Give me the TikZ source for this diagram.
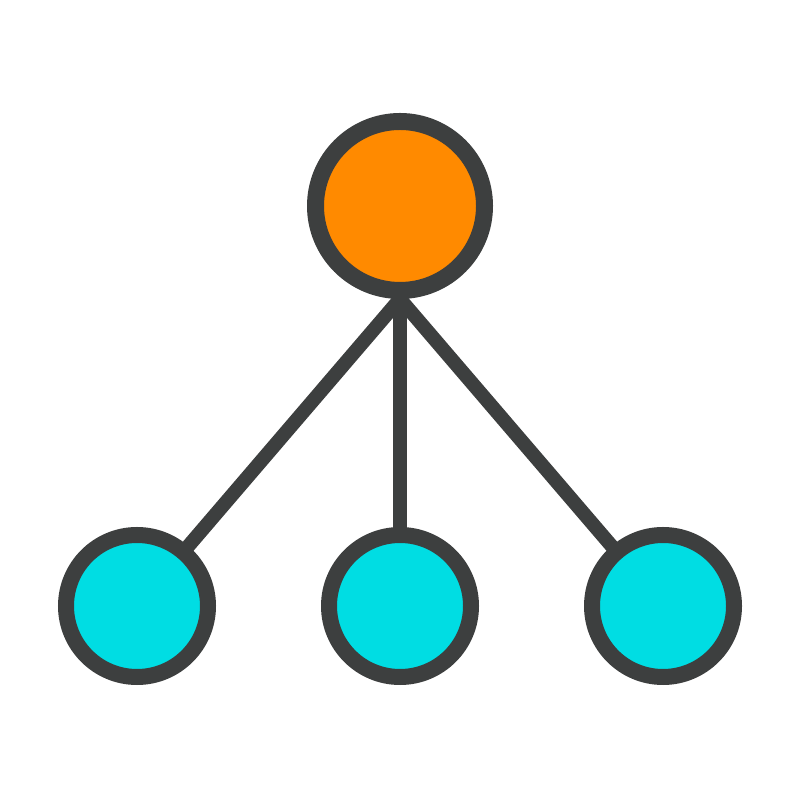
\documentclass[tikz,border=0pt]{standalone}
\usetikzlibrary{backgrounds}
\definecolor{ringgray}{HTML}{3D3F3F}
\definecolor{toporange}{HTML}{FF8A00}
\definecolor{leafcyan}{HTML}{00DDE3}
\begin{document}
\begin{tikzpicture}[
        ring/.style={circle,draw=ringgray,inner sep=0pt},
        link/.style={draw=ringgray,line width=0.14cm,line cap=round}]
                \useasboundingbox (0,0) rectangle (8,8);
                \node[ring,fill=toporange,line width=0.17cm,minimum size=1.69cm] (T) at (4,5.94) {};
                \node[ring,fill=leafcyan,line width=0.16cm,minimum size=1.42cm] (L) at (1.37,1.94) {};
                \node[ring,fill=leafcyan,line width=0.16cm,minimum size=1.42cm] (M) at (4,1.94) {};
                \node[ring,fill=leafcyan,line width=0.16cm,minimum size=1.42cm] (R) at (6.63,1.94) {};
                \begin{scope}[on background layer]
                \draw[link] (T.south) -- (L.center);
                \draw[link] (T.south) -- (M.center);
                \draw[link] (T.south) -- (R.center);
                \end{scope}
            \end{tikzpicture}
\end{document}
